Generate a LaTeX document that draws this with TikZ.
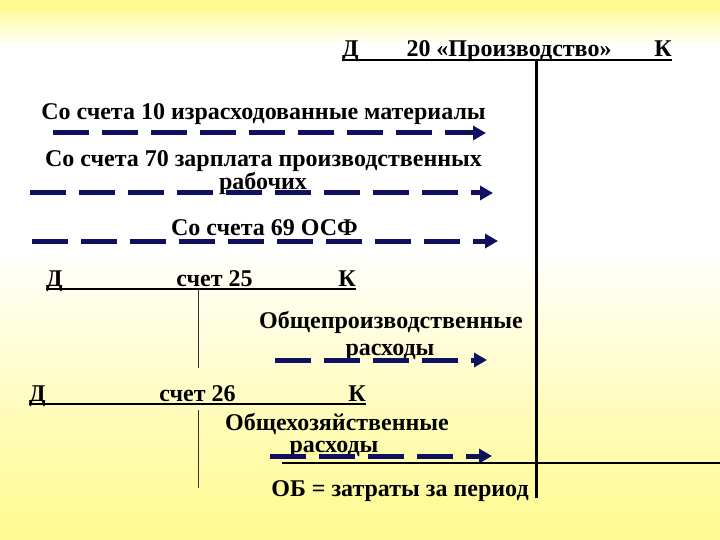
\documentclass[tikz,border=0pt]{standalone}
\usepackage{fontspec}
\setmainfont{Liberation Serif}
\usetikzlibrary{arrows.meta}
\definecolor{edgeY}{RGB}{255,250,145}
\definecolor{navy}{RGB}{16,16,96}
\colorlet{midY}{edgeY!65!white}
\pgfdeclarehorizontalshading{hfade}{100bp}{color(0bp)=(edgeY); color(26.3bp)=(edgeY); color(31bp)=(white); color(72.3bp)=(white); color(74bp)=(edgeY); color(100bp)=(edgeY)}
\pgfdeclareverticalshading{vfade}{100bp}{color(0bp)=(edgeY); color(25.5bp)=(edgeY); color(36bp)=(midY); color(52bp)=(white); color(70.8bp)=(white); color(74.3bp)=(edgeY); color(100bp)=(edgeY)}
\tikzset{
  lbl/.style={font=\bfseries\fontsize{24}{26}\selectfont, inner sep=0pt, anchor=base},
  dasharrow/.style={navy, line width=5pt, dash pattern=on 36pt off 13pt, -{Triangle[length=13pt,width=14pt]}},
  uline/.style={black, line width=2pt},
  thinv/.style={black!80, line width=1pt},
  mainv/.style={black, line width=3pt},
  baseh/.style={black, line width=1.5pt}
}
\begin{document}
\begin{tikzpicture}[x=1pt,y=-1pt]
\useasboundingbox (0,0) rectangle (720,540);
\shade[shading=hfade] (0,0) rectangle (720,540);
\begin{scope}[blend group=multiply]
\shade[shading=vfade] (0,0) rectangle (720,540);
\end{scope}

% account 20
\node[lbl, anchor=base west] (d20) at (342,57) {Д};
\node[lbl] (t20) at (509,57) {20 «Производство»};
\node[lbl, anchor=base east] (k20) at (672,57) {К};
\coordinate (u20a) at (342,60);
\coordinate (u20b) at (672,60);
\coordinate (v20t) at (536,60);
\coordinate (v20b) at (536,498);
\draw[uline] (u20a) -- (u20b);
\draw[mainv] (v20t) -- (v20b);

% inflows
\node[lbl] (m10) at (263.5,120) {Со счета 10 израсходованные материалы};
\coordinate (a1s) at (53,133); \coordinate (a1e) at (486,133);
\draw[dasharrow] (a1s) -- (a1e);

\node[lbl] (m70) at (263.5,167) {Со счета 70 зарплата производственных};
\node[lbl] (m70b) at (263,190) {рабочих};
\coordinate (a2s) at (30,193); \coordinate (a2e) at (493,193);
\draw[dasharrow] (a2s) -- (a2e);

\node[lbl] (m69) at (264.5,236) {Со счета 69 ОСФ};
\coordinate (a3s) at (32,241); \coordinate (a3e) at (498,241);
\draw[dasharrow] (a3s) -- (a3e);

% account 25
\node[lbl, anchor=base west] (d25) at (46,286) {Д};
\node[lbl] (t25) at (214.5,286) {счет 25};
\node[lbl, anchor=base east] (k25) at (356,286) {К};
\coordinate (u25a) at (46,289); \coordinate (u25b) at (356,289);
\coordinate (v25t) at (198,289); \coordinate (v25b) at (198,368);
\draw[uline] (u25a) -- (u25b);
\draw[thinv] (v25t) -- (v25b);
\node[lbl] (op1) at (391,328) {Общепроизводственные};
\node[lbl] (op2) at (390,355) {расходы};
\coordinate (a4s) at (275,360); \coordinate (a4e) at (487,360);
\draw[dasharrow] (a4s) -- (a4e);

% account 26
\node[lbl, anchor=base west] (d26) at (29,401) {Д};
\node[lbl] (t26) at (197.5,401) {счет 26};
\node[lbl, anchor=base east] (k26) at (366,401) {К};
\coordinate (u26a) at (29,404); \coordinate (u26b) at (366,404);
\coordinate (v26t) at (198,410); \coordinate (v26b) at (198,488);
\draw[uline] (u26a) -- (u26b);
\draw[thinv] (v26t) -- (v26b);
\node[lbl] (ox1) at (337,430) {Общехозяйственные};
\node[lbl] (ox2) at (334,452) {расходы};
\coordinate (a5s) at (270,456); \coordinate (a5e) at (492,456);
\draw[dasharrow] (a5s) -- (a5e);

% turnover line
\coordinate (ha) at (282,463); \coordinate (hb) at (720,463);
\draw[baseh] (ha) -- (hb);
\node[lbl] (ob) at (400,496) {ОБ = затраты за период};
\end{tikzpicture}
\end{document}
